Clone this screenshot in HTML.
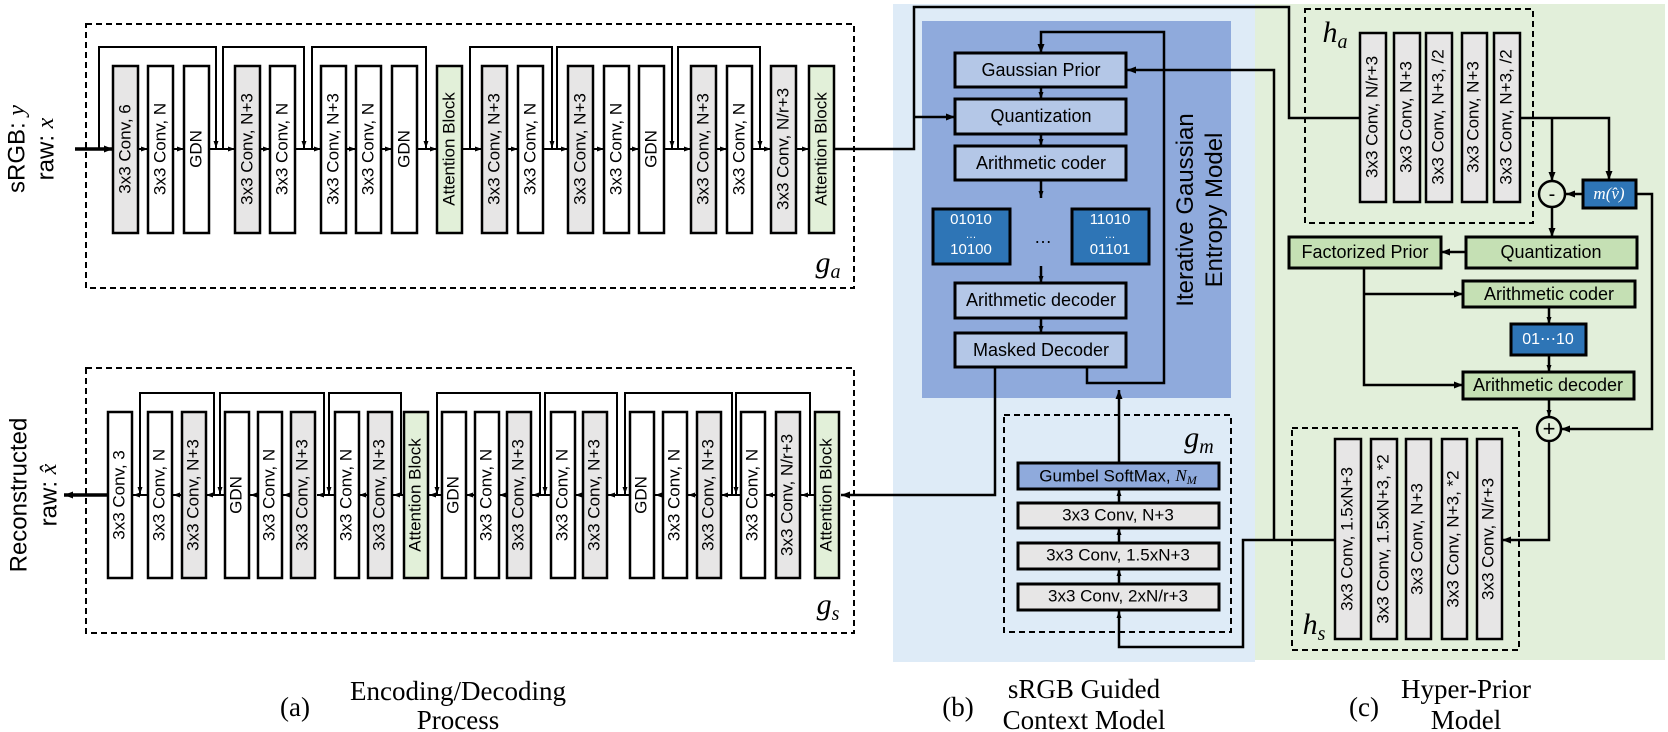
<!DOCTYPE html>
<html><head><meta charset="utf-8"><style>
html,body{margin:0;padding:0;background:#fff;}
svg{display:block;}
text{font-family:"Liberation Sans",Arial,sans-serif;}
.bt text{font-size:17px;}
.bx text{font-size:18px;}
.ser text{font-family:"Liberation Serif","Times New Roman",serif;font-size:27px;}
.mi{font-family:"Liberation Serif",serif;font-style:italic;}
</style></head><body>
<svg width="1668" height="732" viewBox="0 0 1668 732" xmlns="http://www.w3.org/2000/svg">
<defs>
<marker id="a" markerWidth="10" markerHeight="10" refX="9" refY="5" orient="auto" markerUnits="userSpaceOnUse"><path d="M0,1.5 L9,5 L0,8.5 Z" fill="#000"/></marker>
<marker id="s" markerWidth="8" markerHeight="8" refX="7" refY="4" orient="auto" markerUnits="userSpaceOnUse"><path d="M0,1.5 L7,4 L0,6.5 Z" fill="#000"/></marker>
</defs>

<rect x="893" y="4" width="362" height="658" fill="#deebf7"/>
<rect x="1255" y="4" width="410" height="656" fill="#e2efda"/>
<rect x="922" y="21" width="309" height="377" fill="#8faadc"/>

<!-- ========== Top encoder g_a ========== -->
<rect x="86" y="24" width="768" height="264" fill="none" stroke="#000" stroke-width="2" stroke-dasharray="6,4"/>
<text x="18" y="149" font-size="24" transform="rotate(-90 18 149)" text-anchor="middle" dominant-baseline="middle">sRGB: <tspan class="mi">y</tspan></text>
<text x="47" y="149" font-size="24" transform="rotate(-90 47 149)" text-anchor="middle" dominant-baseline="middle">raw: <tspan class="mi">x</tspan></text>
<text x="828" y="272" class="mi" font-size="30" text-anchor="middle">g<tspan font-size="20" dy="6">a</tspan></text>

<g stroke="#000" stroke-width="2" fill="none">
<line x1="75" y1="149" x2="113" y2="149" stroke-width="3.5" marker-end="url(#a)"/>
<line x1="138" y1="149" x2="148" y2="149" marker-end="url(#s)"/>
<line x1="173" y1="149" x2="184" y2="149" marker-end="url(#s)"/>
<line x1="209" y1="149" x2="235" y2="149" marker-end="url(#s)"/>
<line x1="260" y1="149" x2="270" y2="149" marker-end="url(#s)"/>
<line x1="296" y1="149" x2="321" y2="149" marker-end="url(#s)"/>
<line x1="347" y1="149" x2="356" y2="149" marker-end="url(#s)"/>
<line x1="382" y1="149" x2="392" y2="149" marker-end="url(#s)"/>
<line x1="417" y1="149" x2="437" y2="149" marker-end="url(#s)"/>
<line x1="463" y1="149" x2="482" y2="149" marker-end="url(#s)"/>
<line x1="508" y1="149" x2="518" y2="149" marker-end="url(#s)"/>
<line x1="543" y1="149" x2="568" y2="149" marker-end="url(#s)"/>
<line x1="593" y1="149" x2="604" y2="149" marker-end="url(#s)"/>
<line x1="629" y1="149" x2="639" y2="149" marker-end="url(#s)"/>
<line x1="665" y1="149" x2="691" y2="149" marker-end="url(#s)"/>
<line x1="717" y1="149" x2="727" y2="149" marker-end="url(#s)"/>
<line x1="752" y1="149" x2="771" y2="149" marker-end="url(#s)"/>
<line x1="797" y1="149" x2="809" y2="149" marker-end="url(#s)"/>
<polyline points="99,149 99,47 216,47 216,148" marker-end="url(#s)"/>
<polyline points="223,149 223,47 304,47 304,148" marker-end="url(#s)"/>
<polyline points="312,149 312,47 426,47 426,148" marker-end="url(#s)"/>
<polyline points="470,149 470,47 552,47 552,148" marker-end="url(#s)"/>
<polyline points="557,149 557,47 672,47 672,148" marker-end="url(#s)"/>
<polyline points="678,149 678,47 760,47 760,148" marker-end="url(#s)"/>
</g>

<g stroke="#000" stroke-width="2.5">
<rect x="113" y="66" width="25" height="167" fill="#e7e6e6"/>
<rect x="148" y="66" width="25" height="167" fill="#fff"/>
<rect x="184" y="66" width="25" height="167" fill="#fff"/>
<rect x="235" y="66" width="25" height="167" fill="#e7e6e6"/>
<rect x="270" y="66" width="25" height="167" fill="#fff"/>
<rect x="321" y="66" width="25" height="167" fill="#fff"/>
<rect x="356" y="66" width="25" height="167" fill="#fff"/>
<rect x="392" y="66" width="25" height="167" fill="#fff"/>
<rect x="437" y="66" width="25" height="167" fill="#e2f0d9"/>
<rect x="482" y="66" width="25" height="167" fill="#e7e6e6"/>
<rect x="518" y="66" width="25" height="167" fill="#fff"/>
<rect x="568" y="66" width="25" height="167" fill="#e7e6e6"/>
<rect x="604" y="66" width="25" height="167" fill="#fff"/>
<rect x="639" y="66" width="25" height="167" fill="#fff"/>
<rect x="691" y="66" width="25" height="167" fill="#e7e6e6"/>
<rect x="727" y="66" width="25" height="167" fill="#fff"/>
<rect x="771" y="66" width="25" height="167" fill="#e7e6e6"/>
<rect x="809" y="66" width="25" height="167" fill="#e2f0d9"/>
</g>
<g class="bt" text-anchor="middle" dominant-baseline="middle">
<text transform="translate(126,149) rotate(-90)">3x3 Conv, 6</text>
<text transform="translate(161,149) rotate(-90)">3x3 Conv, N</text>
<text transform="translate(197,149) rotate(-90)">GDN</text>
<text transform="translate(248,149) rotate(-90)">3x3 Conv, N+3</text>
<text transform="translate(283,149) rotate(-90)">3x3 Conv, N</text>
<text transform="translate(334,149) rotate(-90)">3x3 Conv, N+3</text>
<text transform="translate(369,149) rotate(-90)">3x3 Conv, N</text>
<text transform="translate(405,149) rotate(-90)">GDN</text>
<text transform="translate(450,149) rotate(-90)">Attention Block</text>
<text transform="translate(495,149) rotate(-90)">3x3 Conv, N+3</text>
<text transform="translate(531,149) rotate(-90)">3x3 Conv, N</text>
<text transform="translate(581,149) rotate(-90)">3x3 Conv, N+3</text>
<text transform="translate(617,149) rotate(-90)">3x3 Conv, N</text>
<text transform="translate(652,149) rotate(-90)">GDN</text>
<text transform="translate(704,149) rotate(-90)">3x3 Conv, N+3</text>
<text transform="translate(740,149) rotate(-90)">3x3 Conv, N</text>
<text transform="translate(784,149) rotate(-90)">3x3 Conv, N/r+3</text>
<text transform="translate(822,149) rotate(-90)">Attention Block</text>
</g>

<!-- ========== Bottom decoder g_s ========== -->
<rect x="86" y="368" width="768" height="265" fill="none" stroke="#000" stroke-width="2" stroke-dasharray="6,4"/>
<text x="20" y="495" font-size="24" transform="rotate(-90 20 495)" text-anchor="middle" dominant-baseline="middle">Reconstructed</text>
<text x="50" y="495" font-size="24" transform="rotate(-90 50 495)" text-anchor="middle" dominant-baseline="middle">raw: <tspan class="mi">x̂</tspan></text>
<text x="828" y="614" class="mi" font-size="30" text-anchor="middle">g<tspan font-size="20" dy="6">s</tspan></text>

<g stroke="#000" stroke-width="2" fill="none">
<line x1="108" y1="495" x2="64" y2="495" stroke-width="3.5" marker-end="url(#a)"/>
<line x1="148" y1="495" x2="133" y2="495" marker-end="url(#s)"/>
<line x1="182" y1="495" x2="173" y2="495" marker-end="url(#s)"/>
<line x1="225" y1="495" x2="206" y2="495" marker-end="url(#s)"/>
<line x1="258" y1="495" x2="250" y2="495" marker-end="url(#s)"/>
<line x1="291" y1="495" x2="283" y2="495" marker-end="url(#s)"/>
<line x1="335" y1="495" x2="317" y2="495" marker-end="url(#s)"/>
<line x1="368" y1="495" x2="359" y2="495" marker-end="url(#s)"/>
<line x1="404" y1="495" x2="393" y2="495" marker-end="url(#s)"/>
<line x1="442" y1="495" x2="429" y2="495" marker-end="url(#s)"/>
<line x1="475" y1="495" x2="466" y2="495" marker-end="url(#s)"/>
<line x1="507" y1="495" x2="499" y2="495" marker-end="url(#s)"/>
<line x1="551" y1="495" x2="532" y2="495" marker-end="url(#s)"/>
<line x1="583" y1="495" x2="575" y2="495" marker-end="url(#s)"/>
<line x1="630" y1="495" x2="608" y2="495" marker-end="url(#s)"/>
<line x1="663" y1="495" x2="655" y2="495" marker-end="url(#s)"/>
<line x1="697" y1="495" x2="688" y2="495" marker-end="url(#s)"/>
<line x1="741" y1="495" x2="721" y2="495" marker-end="url(#s)"/>
<line x1="776" y1="495" x2="766" y2="495" marker-end="url(#s)"/>
<line x1="815" y1="495" x2="801" y2="495" marker-end="url(#s)"/>
<polyline points="214,495 214,393 140,393 140,494" marker-end="url(#s)"/>
<polyline points="324,495 324,393 220,393 220,494" marker-end="url(#s)"/>
<polyline points="401,495 401,393 329,393 329,494" marker-end="url(#s)"/>
<polyline points="540,495 540,393 437,393 437,494" marker-end="url(#s)"/>
<polyline points="617,495 617,393 545,393 545,494" marker-end="url(#s)"/>
<polyline points="732,495 732,393 625,393 625,494" marker-end="url(#s)"/>
<polyline points="810,495 810,393 736,393 736,494" marker-end="url(#s)"/>
</g>
<g stroke="#000" stroke-width="2.5">
<rect x="108" y="412" width="24" height="166" fill="#fff"/>
<rect x="148" y="412" width="24" height="166" fill="#fff"/>
<rect x="182" y="412" width="24" height="166" fill="#e7e6e6"/>
<rect x="225" y="412" width="24" height="166" fill="#fff"/>
<rect x="258" y="412" width="24" height="166" fill="#fff"/>
<rect x="291" y="412" width="24" height="166" fill="#e7e6e6"/>
<rect x="335" y="412" width="24" height="166" fill="#fff"/>
<rect x="368" y="412" width="24" height="166" fill="#e7e6e6"/>
<rect x="404" y="412" width="24" height="166" fill="#e2f0d9"/>
<rect x="442" y="412" width="24" height="166" fill="#fff"/>
<rect x="475" y="412" width="24" height="166" fill="#fff"/>
<rect x="507" y="412" width="24" height="166" fill="#e7e6e6"/>
<rect x="551" y="412" width="24" height="166" fill="#fff"/>
<rect x="583" y="412" width="24" height="166" fill="#e7e6e6"/>
<rect x="630" y="412" width="24" height="166" fill="#fff"/>
<rect x="663" y="412" width="24" height="166" fill="#fff"/>
<rect x="697" y="412" width="24" height="166" fill="#e7e6e6"/>
<rect x="741" y="412" width="24" height="166" fill="#fff"/>
<rect x="776" y="412" width="24" height="166" fill="#e7e6e6"/>
<rect x="815" y="412" width="24" height="166" fill="#e2f0d9"/>
</g>
<g class="bt" text-anchor="middle" dominant-baseline="middle">
<text transform="translate(120,495) rotate(-90)">3x3 Conv, 3</text>
<text transform="translate(160,495) rotate(-90)">3x3 Conv, N</text>
<text transform="translate(194,495) rotate(-90)">3x3 Conv, N+3</text>
<text transform="translate(237,495) rotate(-90)">GDN</text>
<text transform="translate(270,495) rotate(-90)">3x3 Conv, N</text>
<text transform="translate(303,495) rotate(-90)">3x3 Conv, N+3</text>
<text transform="translate(347,495) rotate(-90)">3x3 Conv, N</text>
<text transform="translate(380,495) rotate(-90)">3x3 Conv, N+3</text>
<text transform="translate(416,495) rotate(-90)">Attention Block</text>
<text transform="translate(454,495) rotate(-90)">GDN</text>
<text transform="translate(487,495) rotate(-90)">3x3 Conv, N</text>
<text transform="translate(519,495) rotate(-90)">3x3 Conv, N+3</text>
<text transform="translate(563,495) rotate(-90)">3x3 Conv, N</text>
<text transform="translate(595,495) rotate(-90)">3x3 Conv, N+3</text>
<text transform="translate(642,495) rotate(-90)">GDN</text>
<text transform="translate(675,495) rotate(-90)">3x3 Conv, N</text>
<text transform="translate(709,495) rotate(-90)">3x3 Conv, N+3</text>
<text transform="translate(753,495) rotate(-90)">3x3 Conv, N</text>
<text transform="translate(788,495) rotate(-90)">3x3 Conv, N/r+3</text>
<text transform="translate(827,495) rotate(-90)">Attention Block</text>
</g>

<!-- ========== Context model (b) ========== -->
<g stroke="#000" stroke-width="2.5" fill="none">
<polyline points="834,149 914,149 914,7 1289,7 1289,118 1361,118"/>
<line x1="914" y1="117" x2="955" y2="117" marker-end="url(#a)"/>
<polyline points="1274,540 1274,70 1127,70" marker-end="url(#a)"/>
<polyline points="1087,367 1087,383 1164,383 1164,32 1041,32 1041,53" marker-end="url(#a)"/>
<polyline points="995,367 995,495 841,495" marker-end="url(#a)"/>
<line x1="1041" y1="87" x2="1041" y2="99" marker-end="url(#s)"/>
<line x1="1041" y1="134" x2="1041" y2="146" marker-end="url(#s)"/>
<line x1="1041" y1="180" x2="1041" y2="198" marker-end="url(#s)"/>
<line x1="1041" y1="266" x2="1041" y2="283" marker-end="url(#s)"/>
<line x1="1041" y1="318" x2="1041" y2="333" marker-end="url(#s)"/>
<line x1="1119" y1="463" x2="1119" y2="390" marker-end="url(#a)"/>
<line x1="1119" y1="503" x2="1119" y2="489" marker-end="url(#s)"/>
<line x1="1119" y1="543" x2="1119" y2="528" marker-end="url(#s)"/>
<line x1="1119" y1="584" x2="1119" y2="569" marker-end="url(#s)"/>
<polyline points="1335,540 1243,540 1243,647 1119,647 1119,611" marker-end="url(#s)"/>
</g>
<g stroke="#000" stroke-width="3" fill="#b4c7e7">
<rect x="955" y="53" width="171" height="34"/>
<rect x="955" y="99" width="171" height="35"/>
<rect x="955" y="146" width="171" height="34"/>
<rect x="955" y="283" width="171" height="35"/>
<rect x="955" y="333" width="171" height="34"/>
<rect x="933" y="209" width="77" height="55" fill="#2e75b6"/>
<rect x="1072" y="209" width="77" height="55" fill="#2e75b6"/>
</g>
<g class="bx" text-anchor="middle" dominant-baseline="middle">
<text x="1041" y="71">Gaussian Prior</text>
<text x="1041" y="117">Quantization</text>
<text x="1041" y="164">Arithmetic coder</text>
<text x="1041" y="301">Arithmetic decoder</text>
<text x="1041" y="351">Masked Decoder</text>
<text x="1043" y="238">…</text>
<g fill="#fff"><text x="971" y="220" style="font-size:15px">01010</text><text x="971" y="235" style="font-size:11px">…</text><text x="971" y="250" style="font-size:15px">10100</text>
<text x="1110" y="220" style="font-size:15px">11010</text><text x="1110" y="235" style="font-size:11px">…</text><text x="1110" y="250" style="font-size:15px">01101</text></g>
</g>
<text transform="translate(1199,210) rotate(-90)" font-size="24" text-anchor="middle"><tspan x="0" dy="-6">Iterative Gaussian</tspan><tspan x="0" dy="29">Entropy Model</tspan></text>

<rect x="1004" y="415" width="227" height="217" fill="none" stroke="#000" stroke-width="2" stroke-dasharray="6,4"/>
<text x="1199" y="447" class="mi" font-size="30" text-anchor="middle">g<tspan font-size="20" dy="6">m</tspan></text>
<g stroke="#000" stroke-width="3">
<rect x="1018" y="463" width="201" height="26" fill="#8faadc"/>
<rect x="1018" y="503" width="201" height="25" fill="#e7e6e6"/>
<rect x="1018" y="543" width="201" height="26" fill="#e7e6e6"/>
<rect x="1018" y="584" width="201" height="26" fill="#e7e6e6"/>
</g>
<g text-anchor="middle" dominant-baseline="middle" font-size="17">
<text x="1118" y="477">Gumbel SoftMax, <tspan class="mi">N</tspan><tspan class="mi" font-size="12" dy="4">M</tspan></text>
<text x="1118" y="516">3x3 Conv, N+3</text>
<text x="1118" y="556">3x3 Conv, 1.5xN+3</text>
<text x="1118" y="597">3x3 Conv, 2xN/r+3</text>
</g>

<!-- ========== Hyper-prior (c) ========== -->
<rect x="1305" y="9" width="228" height="214" fill="none" stroke="#000" stroke-width="2" stroke-dasharray="6,4"/>
<text x="1335" y="42" class="mi" font-size="30" text-anchor="middle">h<tspan font-size="20" dy="6">a</tspan></text>
<g stroke="#000" stroke-width="2.5" fill="#e7e6e6">
<rect x="1360" y="33" width="26" height="169"/>
<rect x="1394" y="33" width="26" height="169"/>
<rect x="1426" y="33" width="26" height="169"/>
<rect x="1462" y="33" width="25" height="169"/>
<rect x="1494" y="33" width="26" height="169"/>
</g>
<g class="bt" text-anchor="middle" dominant-baseline="middle">
<text transform="translate(1373,117) rotate(-90)">3x3 Conv, N/r+3</text>
<text transform="translate(1407,117) rotate(-90)">3x3 Conv, N+3</text>
<text transform="translate(1439,117) rotate(-90)">3x3 Conv, N+3, /2</text>
<text transform="translate(1474,117) rotate(-90)">3x3 Conv, N+3</text>
<text transform="translate(1507,117) rotate(-90)">3x3 Conv, N+3, /2</text>
</g>
<g stroke="#000" stroke-width="2.5" fill="none">
<polyline points="1520,118 1609,118 1609,180" marker-end="url(#a)"/>
<line x1="1552" y1="118" x2="1552" y2="181" marker-end="url(#a)"/>
<line x1="1583" y1="194" x2="1566" y2="194" marker-end="url(#a)"/>
<line x1="1552" y1="207" x2="1552" y2="237" marker-end="url(#a)"/>
<line x1="1466" y1="252" x2="1441" y2="252" marker-end="url(#a)"/>
<polyline points="1364,268 1364,385 1463,385" marker-end="url(#a)"/>
<line x1="1364" y1="294" x2="1463" y2="294" marker-end="url(#a)"/>
<line x1="1549" y1="307" x2="1549" y2="324" marker-end="url(#s)"/>
<line x1="1549" y1="355" x2="1549" y2="372" marker-end="url(#s)"/>
<line x1="1549" y1="399" x2="1549" y2="417" marker-end="url(#s)"/>
<polyline points="1636,194 1652,194 1652,429 1561,429" marker-end="url(#a)"/>
<polyline points="1549,441 1549,540 1502,540" marker-end="url(#a)"/>
</g>
<circle cx="1552" cy="194" r="13" fill="#e2efda" stroke="#000" stroke-width="2.5"/>
<text x="1552" y="195" font-size="20" text-anchor="middle" dominant-baseline="middle">-</text>
<circle cx="1549" cy="429" r="12" fill="#e2efda" stroke="#000" stroke-width="2.5"/>
<text x="1549" y="430" font-size="22" text-anchor="middle" dominant-baseline="middle">+</text>
<g stroke="#000" stroke-width="3" fill="#c5e0b4">
<rect x="1583" y="180" width="53" height="28" fill="#2e75b6"/>
<rect x="1466" y="237" width="171" height="31"/>
<rect x="1289" y="237" width="152" height="31"/>
<rect x="1463" y="281" width="172" height="26"/>
<rect x="1511" y="324" width="75" height="31" fill="#2e75b6"/>
<rect x="1463" y="372" width="171" height="27"/>
</g>
<text x="1609" y="195" class="mi" font-size="17" fill="#fff" text-anchor="middle" dominant-baseline="middle">m(v̂)</text>
<g class="bx" text-anchor="middle" dominant-baseline="middle">
<text x="1551" y="253">Quantization</text>
<text x="1365" y="253">Factorized Prior</text>
<text x="1549" y="295">Arithmetic coder</text>
<text x="1548" y="340" fill="#fff" style="font-size:16px">01⋯10</text>
<text x="1548" y="386">Arithmetic decoder</text>
</g>

<rect x="1292" y="428" width="227" height="222" fill="none" stroke="#000" stroke-width="2" stroke-dasharray="6,4"/>
<text x="1314" y="634" class="mi" font-size="30" text-anchor="middle">h<tspan font-size="20" dy="6">s</tspan></text>
<g stroke="#000" stroke-width="2.5" fill="#e7e6e6">
<rect x="1335" y="439" width="26" height="200"/>
<rect x="1371" y="439" width="26" height="200"/>
<rect x="1406" y="439" width="25" height="200"/>
<rect x="1442" y="439" width="25" height="200"/>
<rect x="1477" y="439" width="25" height="200"/>
</g>
<g class="bt" text-anchor="middle" dominant-baseline="middle">
<text transform="translate(1348,539) rotate(-90)">3x3 Conv, 1.5xN+3</text>
<text transform="translate(1384,539) rotate(-90)">3x3 Conv, 1.5xN+3, *2</text>
<text transform="translate(1418,539) rotate(-90)">3x3 Conv, N+3</text>
<text transform="translate(1454,539) rotate(-90)">3x3 Conv, N+3, *2</text>
<text transform="translate(1489,539) rotate(-90)">3x3 Conv, N/r+3</text>
</g>

<g class="ser" text-anchor="middle">
<text x="295" y="716">(a)</text>
<text x="458" y="700">Encoding/Decoding</text>
<text x="458" y="729">Process</text>
<text x="958" y="716">(b)</text>
<text x="1084" y="698">sRGB Guided</text>
<text x="1084" y="729">Context Model</text>
<text x="1364" y="716">(c)</text>
<text x="1466" y="698">Hyper-Prior</text>
<text x="1466" y="729">Model</text>
</g>
</svg>
</body></html>
